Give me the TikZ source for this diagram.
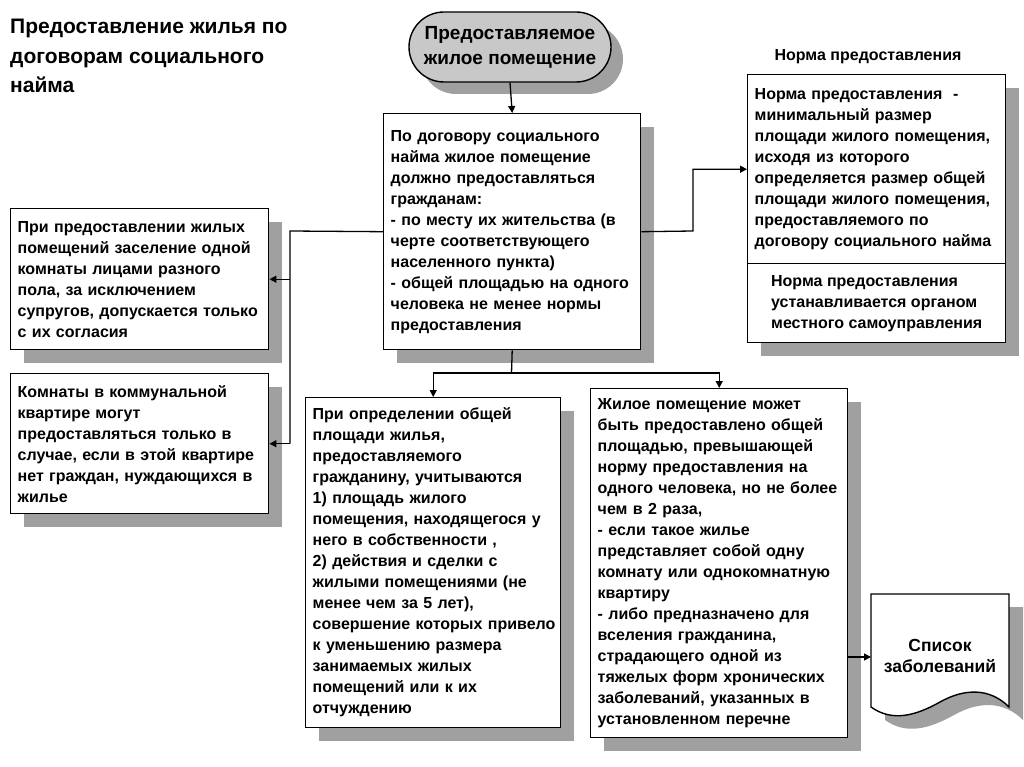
\documentclass[tikz,border=0pt]{standalone}
\usepackage{fontspec}
\setmainfont{Liberation Sans}
\usetikzlibrary{arrows.meta,shapes.misc,shadows}
\definecolor{shadowgray}{RGB}{160,160,160}
\definecolor{ovalgray}{RGB}{200,200,200}
\begin{document}
\begin{tikzpicture}[x=1pt,y=-1pt,
  shad/.style={drop shadow={shadow xshift=13pt,shadow yshift=-13pt,fill=shadowgray,opacity=1}},
  tbox/.style={draw,line width=1.4pt,fill=white,align=left,inner xsep=7pt,inner ysep=0pt,
    font=\bfseries\fontsize{16}{21}\selectfont,shad,anchor=north west},
  line/.style={line width=1.3pt},
  arr/.style={line width=1.3pt,-{Triangle[length=7pt,width=7pt]}},
]
\useasboundingbox (0,0) rectangle (1024,767);

% title
\node[anchor=north west,inner sep=0pt,align=left,font=\bfseries\fontsize{21}{29.5}\selectfont] (title) at (10,19)
  {Предоставление жилья по\\договорам социального\\найма};

% oval
\node[rounded rectangle,draw,line width=1.4pt,fill=ovalgray,minimum width=204pt,minimum height=70pt,
  inner xsep=1pt,align=center,font=\bfseries\fontsize{19}{25}\selectfont,
  drop shadow={shadow xshift=12pt,shadow yshift=-12pt,fill=shadowgray,opacity=1}] (oval) at (510,47)
  {Предоставляемое\\жилое помещение};

% main box
\node[tbox,text width=243pt,minimum width=257pt,minimum height=236pt] (main) at (383,113)
  {По договору социального\\найма жилое помещение\\должно предоставляться\\гражданам:\\- по месту их жительства (в\\черте соответствующего\\населенного пункта)\\- общей площадью на одного\\человека не менее нормы\\предоставления};

% left boxes
\node[tbox,text width=244pt,minimum width=258pt,minimum height=141pt] (b1) at (10,208)
  {При предоставлении жилых\\помещений заселение одной\\комнаты лицами разного\\пола, за исключением\\супругов, допускается только\\с их согласия};
\node[tbox,text width=244pt,minimum width=258pt,minimum height=140pt] (b2) at (10,373)
  {Комнаты в коммунальной\\квартире могут\\предоставляться только в\\случае, если в этой квартире\\нет граждан, нуждающихся в\\жилье};

% bottom boxes
\node[tbox,text width=241pt,minimum width=255pt,minimum height=330pt] (b3) at (305,397)
  {При определении общей\\площади жилья,\\предоставляемого\\гражданину, учитываются\\1) площадь жилого\\помещения, находящегося у\\него в собственности ,\\2) действия и сделки с\\жилыми помещениями (не\\менее чем за 5 лет),\\\mbox{совершение которых привело}\\к уменьшению размера\\занимаемых жилых\\помещений или к их\\отчуждению};
\node[tbox,text width=243pt,minimum width=257pt,minimum height=349pt] (b4) at (590,388)
  {Жилое помещение может\\быть предоставлено общей\\площадью, превышающей\\норму предоставления на\\одного человека, но не более\\чем в 2 раза,\\- если такое жилье\\представляет собой одну\\комнату или однокомнатную\\квартиру\\- либо предназначено для\\вселения гражданина,\\страдающего одной из\\тяжелых форм хронических\\заболеваний, указанных в\\установленном перечне};

% right group
\node[font=\bfseries\fontsize{16}{21}\selectfont,inner sep=0pt] (normlabel) at (868,57) {Норма предоставления};
\node[tbox,text width=244pt,minimum width=258pt,minimum height=189pt] (normA) at (747,74)
  {Норма предоставления~ -\\минимальный размер\\площади жилого помещения,\\исходя из которого\\определяется размер общей\\площади жилого помещения,\\предоставляемого по\\договору социального найма};
\node[tbox,minimum width=258pt,minimum height=79pt] (normB) at (747,263)
  {Норма предоставления\\устанавливается органом\\местного самоуправления};

% document shape
\path[draw,line width=1.4pt,fill=white,
  drop shadow={shadow xshift=14pt,shadow yshift=-13pt,fill=shadowgray,opacity=1}]
  (871,594) -- (1009,594) -- (1009,707)
  .. controls (990,688) and (965,688) .. (940,702)
  .. controls (915,716) and (892,722) .. (871,707) -- cycle;
\node[align=center,font=\bfseries\fontsize{17.5}{21}\selectfont,inner sep=0pt] (doc) at (940,656)
  {Список\\заболеваний};
\coordinate (docin) at (871,657);

% connectors
\draw[arr] (oval.south) -- (main.north);
\coordinate (jl) at (290,231);
\draw[line] (main.west) -- (jl) -- (jl |- b2.east);
\draw[arr] (jl |- b1.east) -- (b1.east);
\draw[arr] (jl |- b2.east) -- (b2.east);
\coordinate (jr) at (693,231);
\draw[arr] (main.east) -- (jr) -- (jr |- normA.west) -- (normA.west);
\coordinate (jb) at (511.5,373);
\draw[line] (main.south) -- (jb);
\draw[arr] (jb) -| (b3.north);
\draw[arr] (jb) -| (b4.north);
\draw[arr] (b4.east |- docin) -- (docin);
\end{tikzpicture}
\end{document}
